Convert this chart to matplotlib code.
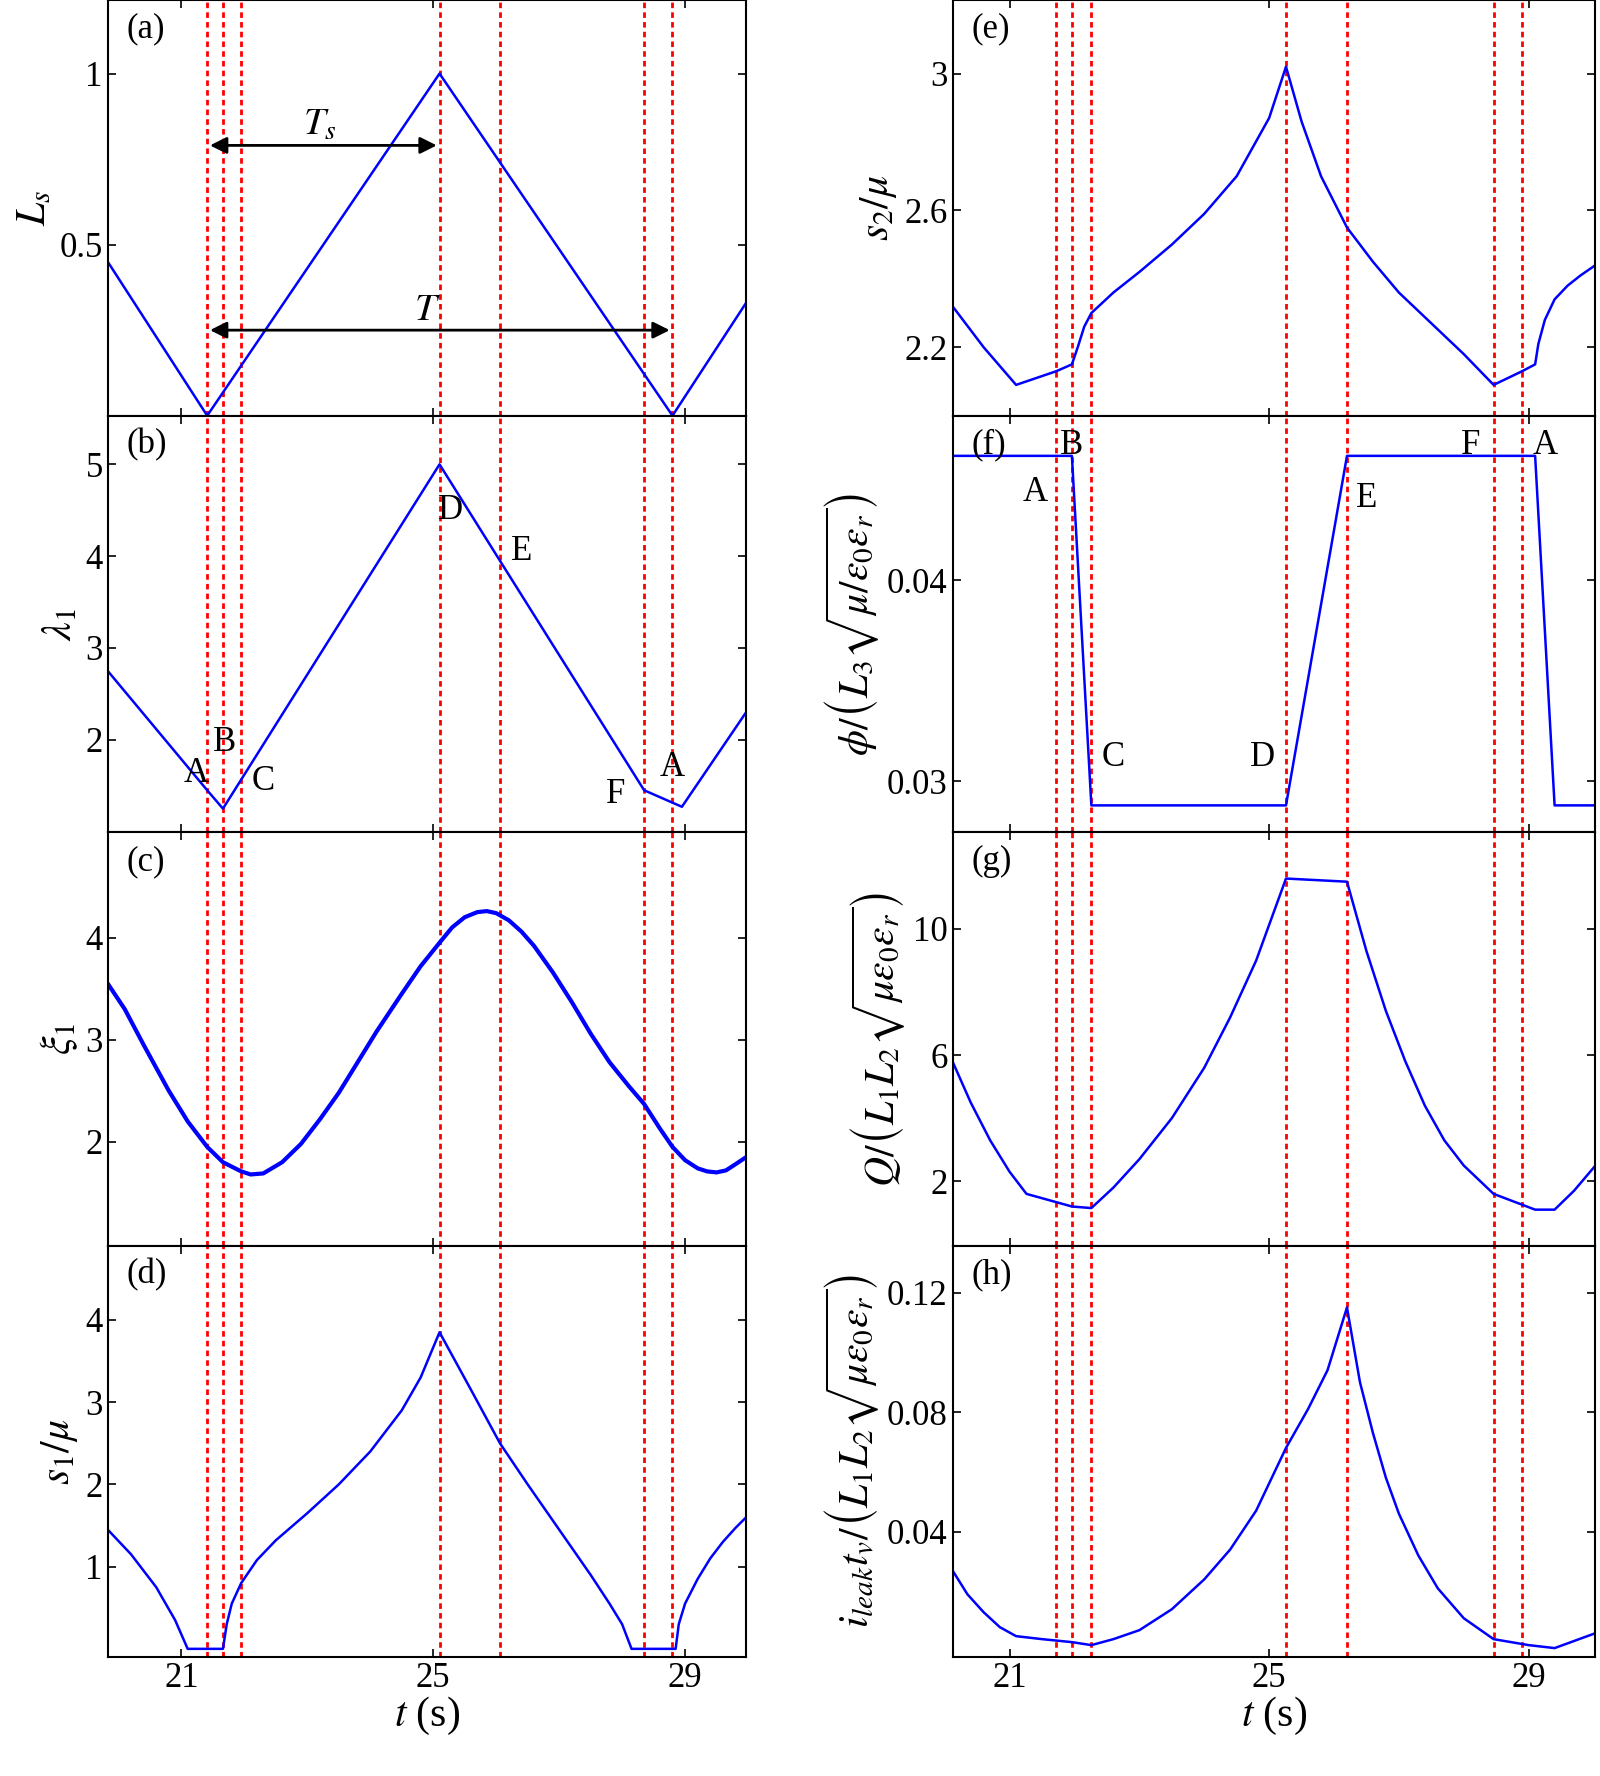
import matplotlib
matplotlib.use("Agg")
import matplotlib.pyplot as plt

plt.rcParams['font.family'] = 'serif'
plt.rcParams['font.serif'] = ['Liberation Serif', 'Times New Roman', 'DejaVu Serif']
plt.rcParams['mathtext.fontset'] = 'stix'

# vertical marker lines (phase boundaries)
vl_left = [21.41, 21.66, 21.95, 25.1, 26.06, 28.35, 28.8]
vl_right = [21.72, 21.96, 22.26, 25.26, 26.2, 28.46, 28.9]

# (a) L_s
a_t = [19.83, 21.41, 25.1, 28.8, 29.97]
a_y = [0.45, 0.0, 1.0, 0.0, 0.33]
# (b) lambda_1
b_t = [19.83, 21.41, 21.66, 25.1, 26.06, 28.35, 28.95, 29.97]
b_y = [2.75, 1.45, 1.25, 5.0, 3.95, 1.45, 1.27, 2.3]
# (c) xi_1
c_t = [19.83, 20.1, 20.4, 20.8, 21.1, 21.41, 21.66, 21.95, 22.1, 22.3, 22.6, 22.9, 23.2, 23.5, 23.8, 24.1, 24.5, 24.8, 25.1, 25.3, 25.5, 25.7, 25.85, 26.0, 26.2, 26.4, 26.6, 26.9, 27.2, 27.5, 27.8, 28.1, 28.35, 28.6, 28.8, 29.0, 29.2, 29.35, 29.5, 29.65, 29.8, 29.97]
c_y = [3.55, 3.3, 2.95, 2.5, 2.2, 1.95, 1.8, 1.71, 1.68, 1.69, 1.8, 1.98, 2.22, 2.48, 2.78, 3.08, 3.45, 3.72, 3.95, 4.1, 4.2, 4.25, 4.26, 4.24, 4.17, 4.06, 3.92, 3.66, 3.37, 3.06, 2.78, 2.55, 2.37, 2.13, 1.95, 1.82, 1.74, 1.71, 1.70, 1.72, 1.78, 1.85]
# (d) s1/mu
d_t = [19.83, 20.2, 20.6, 20.9, 21.1, 21.66, 21.72, 21.8, 21.95, 22.2, 22.5, 23.0, 23.5, 24.0, 24.5, 24.8, 25.1, 25.6, 26.06, 26.5, 27.0, 27.5, 27.8, 28.0, 28.15, 28.85, 28.9, 29.0, 29.2, 29.4, 29.6, 29.8, 29.97]
d_y = [1.45, 1.15, 0.75, 0.35, 0.0, 0.0, 0.3, 0.55, 0.8, 1.08, 1.32, 1.65, 2.0, 2.4, 2.9, 3.3, 3.85, 3.15, 2.5, 2.0, 1.45, 0.9, 0.55, 0.3, 0.0, 0.0, 0.3, 0.55, 0.85, 1.1, 1.3, 1.47, 1.6]
# (e) s2/mu
e_t = [20.12, 20.6, 21.1, 21.72, 21.96, 22.05, 22.15, 22.26, 22.6, 23.0, 23.5, 24.0, 24.5, 25.0, 25.26, 25.5, 25.8, 26.2, 26.6, 27.0, 27.5, 28.0, 28.46, 28.9, 29.1, 29.15, 29.25, 29.4, 29.6, 29.8, 30.03]
e_y = [2.32, 2.2, 2.09, 2.13, 2.15, 2.2, 2.26, 2.3, 2.36, 2.42, 2.5, 2.59, 2.7, 2.87, 3.02, 2.86, 2.7, 2.55, 2.45, 2.36, 2.27, 2.18, 2.09, 2.13, 2.15, 2.21, 2.28, 2.34, 2.38, 2.41, 2.44]
# (f) phi
f_t = [20.12, 21.96, 22.26, 25.26, 26.2, 29.1, 29.4, 30.03]
f_y = [0.0462, 0.0462, 0.0288, 0.0288, 0.0462, 0.0462, 0.0288, 0.0288]
# (g) Q
g_t = [20.12, 20.4, 20.7, 21.0, 21.26, 21.96, 22.26, 22.6, 23.0, 23.5, 24.0, 24.4, 24.8, 25.26, 26.2, 26.5, 26.8, 27.1, 27.4, 27.7, 28.0, 28.46, 29.1, 29.4, 29.7, 30.03]
g_y = [5.8, 4.5, 3.3, 2.3, 1.6, 1.2, 1.15, 1.8, 2.7, 4.0, 5.6, 7.2, 9.0, 11.6, 11.5, 9.3, 7.4, 5.8, 4.4, 3.3, 2.5, 1.6, 1.1, 1.1, 1.7, 2.5]
# (h) i_leak
h_t = [20.12, 20.35, 20.6, 20.85, 21.1, 21.5, 21.96, 22.26, 22.6, 23.0, 23.5, 24.0, 24.4, 24.8, 25.26, 25.6, 25.9, 26.2, 26.4, 26.6, 26.8, 27.0, 27.3, 27.6, 28.0, 28.46, 29.0, 29.4, 30.03]
h_y = [0.027, 0.019, 0.013, 0.008, 0.005, 0.004, 0.003, 0.002, 0.004, 0.007, 0.014, 0.024, 0.034, 0.047, 0.068, 0.081, 0.094, 0.115, 0.09, 0.073, 0.058, 0.046, 0.032, 0.021, 0.011, 0.004, 0.002, 0.001, 0.006]

fig = plt.figure(figsize=(16, 17.76), dpi=100)
W, H = 1411, 1568
rows = [(0, 367), (367, 735), (735, 1100), (1100, 1463)]
cols = [(95, 658), (840, 1407)]

def mk(col, row):
    x0, x1 = cols[col]
    y0, y1 = rows[row]
    return fig.add_axes([x0 / W, 1 - y1 / H, (x1 - x0) / W, (y1 - y0) / H])

fs = 25
panels = [
    (0, 0, a_t, a_y, (0, 1.215), [0.5, 1], ['0.5', '1'], r'$L_s$', '(a)'),
    (0, 1, b_t, b_y, (0.99, 5.53), [2, 3, 4, 5], ['2', '3', '4', '5'], r'$\lambda_1$', '(b)'),
    (0, 2, c_t, c_y, (0.98, 5.03), [2, 3, 4], ['2', '3', '4'], r'$\xi_1$', '(c)'),
    (0, 3, d_t, d_y, (-0.1, 4.9), [1, 2, 3, 4], ['1', '2', '3', '4'], r'$s_1/\mu$', '(d)'),
    (1, 0, e_t, e_y, (2.0, 3.215), [2.2, 2.6, 3], ['2.2', '2.6', '3'], r'$s_2/\mu$', '(e)'),
    (1, 1, f_t, f_y, (0.02745, 0.0482), [0.03, 0.04], ['0.03', '0.04'],
     r'$\phi/\left(L_3\sqrt{\mu/\varepsilon_0\varepsilon_r}\right)$', '(f)'),
    (1, 2, g_t, g_y, (-0.05, 13.06), [2, 6, 10], ['2', '6', '10'],
     r'$Q/\left(L_1L_2\sqrt{\mu\varepsilon_0\varepsilon_r}\right)$', '(g)'),
    (1, 3, h_t, h_y, (-0.002, 0.1356), [0.04, 0.08, 0.12], ['0.04', '0.08', '0.12'],
     r'$i_{leak}t_v/\left(L_1L_2\sqrt{\mu\varepsilon_0\varepsilon_r}\right)$', '(h)'),
]

for col, row, t, y, ylim, yt, ytl, ylab, tag in panels:
    ax = mk(col, row)
    xl = (19.83, 29.97) if col == 0 else (20.12, 30.03)
    lines = vl_left if col == 0 else vl_right
    for v in lines:
        ax.axvline(v, color='red', ls=(0, (2, 1.5)), lw=2)
    ax.plot(t, y, color='blue', lw=3 if tag == '(c)' else 1.8)
    ax.set_xlim(*xl)
    ax.set_ylim(*ylim)
    ax.set_yticks(yt)
    ax.set_yticklabels(ytl, fontsize=fs)
    ax.set_xticks([21, 25, 29])
    ax.tick_params(direction='in', length=6, top=True, right=True, width=1.2)
    if row == 3:
        ax.set_xticklabels(['21', '25', '29'], fontsize=fs)
        ax.set_xlabel(r'$t$ (s)', fontsize=30, labelpad=0)
    else:
        ax.set_xticklabels([])
    for s in ax.spines.values():
        s.set_linewidth(1.5)
    ax.set_ylabel(ylab, fontsize=30, labelpad=4)
    ax.text(0.03, 0.97, tag, transform=ax.transAxes, fontsize=fs, va='top')
    if tag == '(a)':
        ax.annotate('', xy=(21.41, 0.79), xytext=(25.1, 0.79),
                    arrowprops=dict(arrowstyle='<|-|>', color='black', lw=2, mutation_scale=25))
        ax.text(23.2, 0.82, r'$T_s$', fontsize=28, ha='center')
        ax.annotate('', xy=(21.41, 0.25), xytext=(28.8, 0.25),
                    arrowprops=dict(arrowstyle='<|-|>', color='black', lw=2, mutation_scale=25))
        ax.text(24.9, 0.28, r'$T$', fontsize=28, ha='center')
    if tag == '(b)':
        for lab, x, yy in [('A', 21.23, 1.63), ('B', 21.68, 1.97), ('C', 22.3, 1.55),
                           ('D', 25.27, 4.5), ('E', 26.4, 4.05), ('F', 27.9, 1.4), ('A', 28.8, 1.7)]:
            ax.text(x, yy, lab, fontsize=fs, ha='center', va='center')
    if tag == '(f)':
        for lab, x, yy in [('A', 21.39, 0.0444), ('B', 21.96, 0.0467), ('C', 22.6, 0.0312),
                           ('D', 24.9, 0.0312), ('E', 26.5, 0.0441), ('F', 28.1, 0.0467), ('A', 29.25, 0.0467)]:
            ax.text(x, yy, lab, fontsize=fs, ha='center', va='center')

fig.savefig('out.png', dpi=100)
